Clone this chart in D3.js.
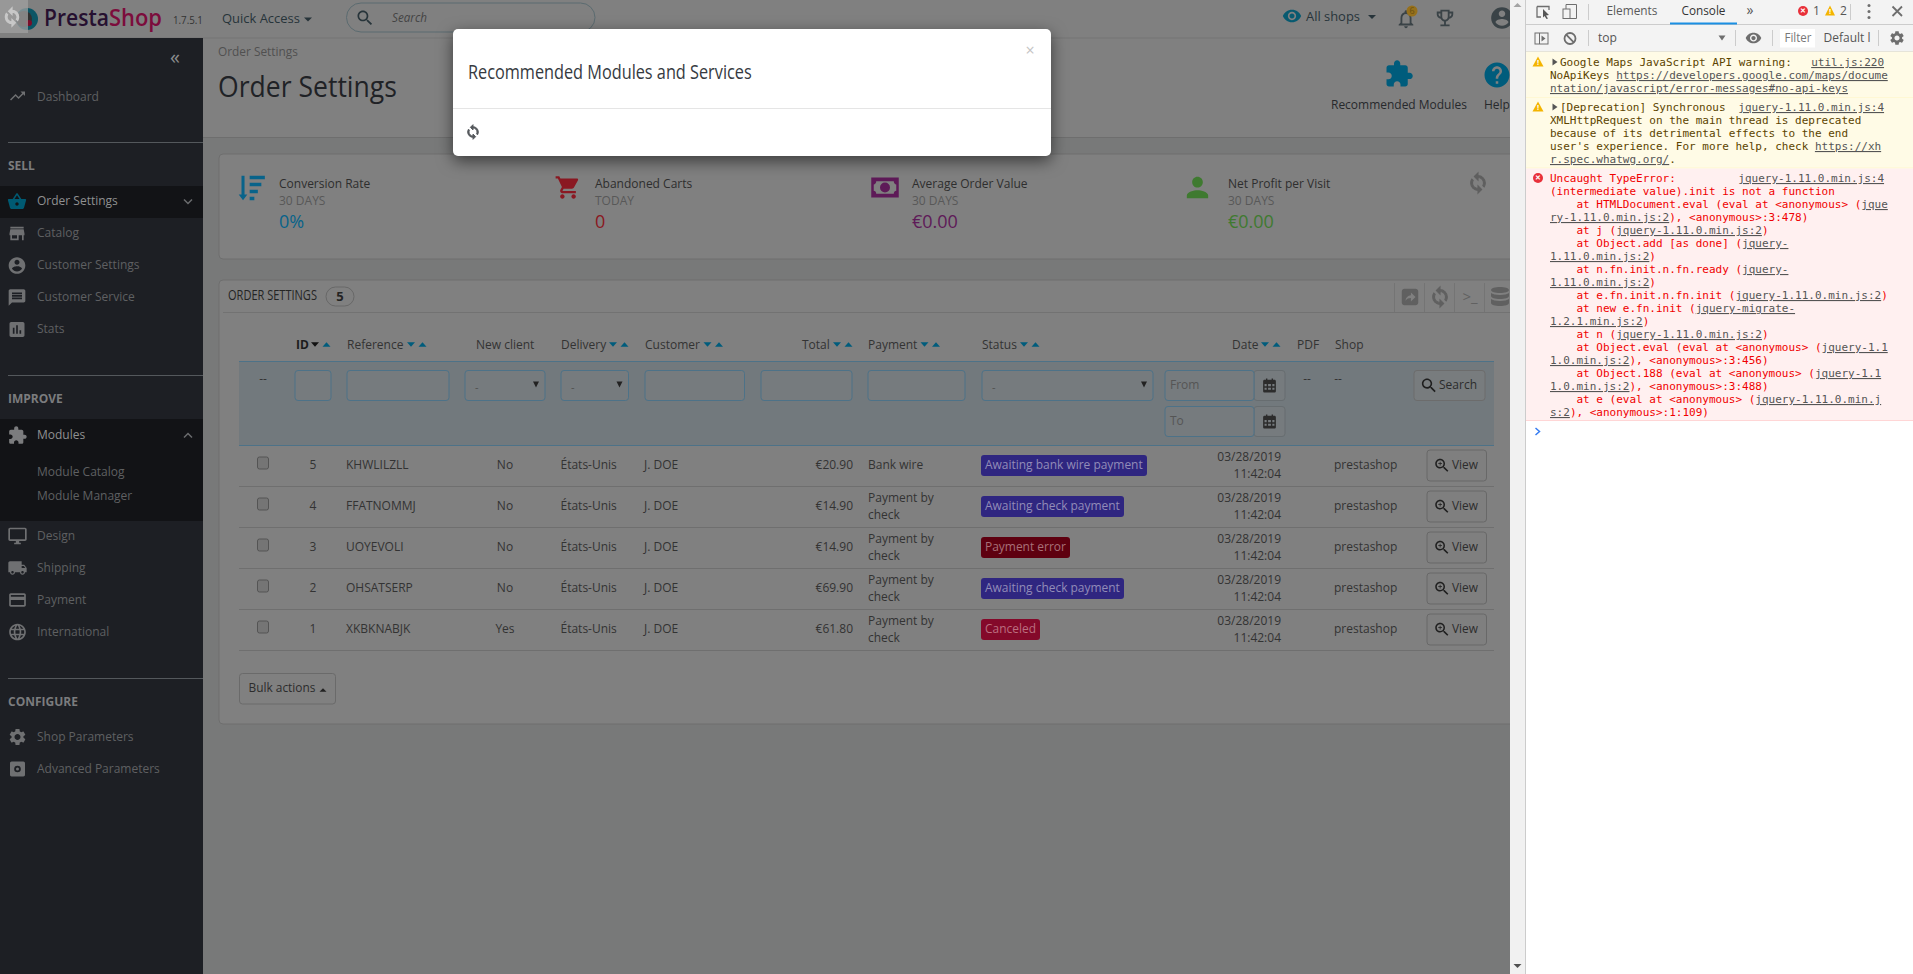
<!DOCTYPE html>
<html>
<head>
<meta charset="utf-8">
<title>Order Settings</title>
<script src="https://cdn.jsdelivr.net/npm/d3@7"></script>
<style>
  html, body { margin: 0; padding: 0; overflow: hidden; background: #fff; }
  svg { display: block; }
  text { font-family: "Open Sans", sans-serif; white-space: pre; }
  .mono { font-family: "DejaVu Sans Mono", monospace; font-size: 11px; }
</style>
</head>
<body>
<div id="page"></div>
<script>
// Sidebar
var sellMenu = ["Order Settings", "Catalog", "Customer Settings", "Customer Service", "Stats"];
var improveMenu = ["Modules", "Design", "Shipping", "Payment", "International"];
var configureMenu = ["Shop Parameters", "Advanced Parameters"];
var moduleSubmenu = ["Module Catalog", "Module Manager"];

// KPI strip
var kpiTitles = ["Conversion Rate", "Abandoned Carts", "Average Order Value", "Net Profit per Visit"];
var kpiPeriods = ["30 DAYS", "TODAY", "30 DAYS", "30 DAYS"];
var kpiValues = ["0%", "0", "€0.00", "€0.00"];

// Orders table
var orderIds = ["5", "4", "3", "2", "1"];
var orderRefs = ["KHWLILZLL", "FFATNOMMJ", "UOYEVOLI", "OHSATSERP", "XKBKNABJK"];
var orderNewClient = ["No", "No", "No", "No", "Yes"];
var orderDelivery = ["États-Unis", "États-Unis", "États-Unis", "États-Unis", "États-Unis"];
var orderCustomer = ["J. DOE", "J. DOE", "J. DOE", "J. DOE", "J. DOE"];
var orderTotal = ["€20.90", "€14.90", "€14.90", "€69.90", "€61.80"];
var orderPayment = [["Bank wire"], ["Payment by", "check"], ["Payment by", "check"], ["Payment by", "check"], ["Payment by", "check"]];
var orderStatus = ["Awaiting bank wire payment", "Awaiting check payment", "Payment error", "Awaiting check payment", "Canceled"];
var orderDate = ["03/28/2019", "03/28/2019", "03/28/2019", "03/28/2019", "03/28/2019"];
var orderTime = ["11:42:04", "11:42:04", "11:42:04", "11:42:04", "11:42:04"];
var orderShop = ["prestashop", "prestashop", "prestashop", "prestashop", "prestashop"];

// Console output, {...} marks a link
var warnMaps = [
  "Google Maps JavaScript API warning:{util.js:220}",
  "NoApiKeys {https://developers.google.com/maps/docume}",
  "{ntation/javascript/error-messages#no-api-keys}"
];
var warnDeprecation = [
  "[Deprecation] Synchronous{jquery-1.11.0.min.js:4}",
  "XMLHttpRequest on the main thread is deprecated",
  "because of its detrimental effects to the end",
  "user's experience. For more help, check {https://xh}",
  "{r.spec.whatwg.org/}."
];
var errorLines = [
  "Uncaught TypeError:{jquery-1.11.0.min.js:4}",
  "(intermediate value).init is not a function",
  "    at HTMLDocument.eval (eval at <anonymous> ({jque}",
  "{ry-1.11.0.min.js:2}), <anonymous>:3:478)",
  "    at j ({jquery-1.11.0.min.js:2})",
  "    at Object.add [as done] ({jquery-}",
  "{1.11.0.min.js:2})",
  "    at n.fn.init.n.fn.ready ({jquery-}",
  "{1.11.0.min.js:2})",
  "    at e.fn.init.n.fn.init ({jquery-1.11.0.min.js:2})",
  "    at new e.fn.init ({jquery-migrate-}",
  "{1.2.1.min.js:2})",
  "    at n ({jquery-1.11.0.min.js:2})",
  "    at Object.eval (eval at <anonymous> ({jquery-1.1}",
  "{1.0.min.js:2}), <anonymous>:3:456)",
  "    at Object.188 (eval at <anonymous> ({jquery-1.1}",
  "{1.0.min.js:2}), <anonymous>:3:488)",
  "    at e (eval at <anonymous> ({jquery-1.11.0.min.j}",
  "{s:2}), <anonymous>:1:109)"
];

// Material style icon paths
var icons = {
  trend: "M16 6l2.29 2.29-4.88 4.88-4-4L2 16.59 3.41 18l6-6 4 4 6.3-6.29L22 12V6z",
  basket: "M17.21 9l-4.38-6.56c-.19-.28-.51-.42-.83-.42-.32 0-.64.14-.83.43L6.79 9H2c-.55 0-1 .45-1 1 0 .09.01.18.04.27l2.54 9.27c.23.84 1 1.46 1.92 1.46h13c.92 0 1.69-.62 1.93-1.46l2.54-9.27L23 10c0-.55-.45-1-1-1h-4.79zM9 9l3-4.4L15 9H9zm3 8c-1.1 0-2-.9-2-2s.9-2 2-2 2 .9 2 2-.9 2-2 2z",
  store: "M20 4H4v2h16V4zm1 10v-2l-1-5H4l-1 5v2h1v6h10v-6h4v6h2v-6h1zm-9 4H6v-4h6v4z",
  account: "M12 2C6.48 2 2 6.48 2 12s4.48 10 10 10 10-4.48 10-10S17.52 2 12 2zm0 3c1.66 0 3 1.34 3 3s-1.34 3-3 3-3-1.34-3-3 1.34-3 3-3zm0 14.2c-2.5 0-4.71-1.28-6-3.22.03-1.99 4-3.08 6-3.08 1.99 0 5.97 1.09 6 3.08-1.29 1.94-3.5 3.22-6 3.22z",
  chat: "M20 2H4c-1.1 0-1.99.9-1.99 2L2 22l4-4h14c1.1 0 2-.9 2-2V4c0-1.1-.9-2-2-2zm-2 12H6v-2h12v2zm0-3H6V9h12v2zm0-3H6V6h12v2z",
  stats: "M19 3H5c-1.1 0-2 .9-2 2v14c0 1.1.9 2 2 2h14c1.1 0 2-.9 2-2V5c0-1.1-.9-2-2-2zM9 17H7v-7h2v7zm4 0h-2V7h2v10zm4 0h-2v-4h2v4z",
  puzzle: "M20.5 11H19V7c0-1.1-.9-2-2-2h-4V3.5C13 2.12 11.88 1 10.5 1S8 2.12 8 3.5V5H4c-1.1 0-1.99.9-1.99 2v3.8H3.5c1.49 0 2.7 1.21 2.7 2.7s-1.21 2.7-2.7 2.7H2V20c0 1.1.9 2 2 2h3.8v-1.5c0-1.49 1.21-2.7 2.7-2.7 1.49 0 2.7 1.21 2.7 2.7V22H17c1.1 0 2-.9 2-2v-4h1.5c1.38 0 2.5-1.12 2.5-2.5S21.88 11 20.5 11z",
  desktop: "M21 2H3c-1.1 0-2 .9-2 2v12c0 1.1.9 2 2 2h7v2H8v2h8v-2h-2v-2h7c1.1 0 2-.9 2-2V4c0-1.1-.9-2-2-2zm0 14H3V4h18v12z",
  truck: "M20 8h-3V4H3c-1.1 0-2 .9-2 2v11h2c0 1.66 1.34 3 3 3s3-1.34 3-3h6c0 1.66 1.34 3 3 3s3-1.34 3-3h2v-5l-3-4zM6 18.5c-.83 0-1.5-.67-1.5-1.5s.67-1.5 1.5-1.5 1.5.67 1.5 1.5-.67 1.5-1.5 1.5zm13.5-9l1.96 2.5H17V9.5h2.5zm-1.5 9c-.83 0-1.5-.67-1.5-1.5s.67-1.5 1.5-1.5 1.5.67 1.5 1.5-.67 1.5-1.5 1.5z",
  card: "M20 4H4c-1.11 0-1.99.89-1.99 2L2 18c0 1.11.89 2 2 2h16c1.11 0 2-.89 2-2V6c0-1.11-.89-2-2-2zm0 14H4v-6h16v6zm0-10H4V6h16v2z",
  globe: "M11.99 2C6.47 2 2 6.48 2 12s4.47 10 9.99 10C17.52 22 22 17.52 22 12S17.52 2 11.99 2zm6.93 6h-2.95c-.32-1.25-.78-2.45-1.38-3.56 1.84.63 3.37 1.91 4.33 3.56zM12 4.04c.83 1.2 1.48 2.53 1.91 3.96h-3.82c.43-1.43 1.08-2.76 1.91-3.96zM4.26 14C4.1 13.36 4 12.69 4 12s.1-1.36.26-2h3.38c-.08.66-.14 1.32-.14 2 0 .68.06 1.34.14 2H4.26zm.82 2h2.95c.32 1.25.78 2.45 1.38 3.56-1.84-.63-3.37-1.9-4.33-3.56zm2.95-8H5.08c.96-1.66 2.49-2.93 4.33-3.56C8.81 5.55 8.35 6.75 8.03 8zM12 19.96c-.83-1.2-1.48-2.53-1.91-3.96h3.82c-.43 1.43-1.08 2.76-1.91 3.96zM14.34 14H9.66c-.09-.66-.16-1.32-.16-2 0-.68.07-1.35.16-2h4.68c.09.65.16 1.32.16 2 0 .68-.07 1.34-.16 2zm.25 5.56c.6-1.11 1.06-2.31 1.38-3.56h2.95c-.96 1.65-2.49 2.93-4.33 3.56zM16.36 14c.08-.66.14-1.32.14-2 0-.68-.06-1.34-.14-2h3.38c.16.64.26 1.31.26 2s-.1 1.36-.26 2h-3.38z",
  gear: "M19.14 12.94c.04-.3.06-.61.06-.94 0-.32-.02-.64-.07-.94l2.03-1.58c.18-.14.23-.41.12-.61l-1.92-3.32c-.12-.22-.37-.29-.59-.22l-2.39.96c-.5-.38-1.03-.7-1.62-.94l-.36-2.54c-.04-.24-.24-.41-.48-.41h-3.84c-.24 0-.43.17-.47.41l-.36 2.54c-.59.24-1.13.57-1.62.94l-2.39-.96c-.22-.08-.47 0-.59.22L2.74 8.87c-.12.21-.08.47.12.61l2.03 1.58c-.05.3-.09.63-.09.94s.02.64.07.94l-2.03 1.58c-.18.14-.23.41-.12.61l1.92 3.32c.12.22.37.29.59.22l2.39-.96c.5.38 1.03.7 1.62.94l.36 2.54c.05.24.24.41.48.41h3.84c.24 0 .44-.17.47-.41l.36-2.54c.59-.24 1.13-.56 1.62-.94l2.39.96c.22.08.47 0 .59-.22l1.92-3.32c.12-.22.07-.47-.12-.61l-2.01-1.58zM12 15.6c-1.98 0-3.6-1.62-3.6-3.6s1.62-3.6 3.6-3.6 3.6 1.62 3.6 3.6-1.62 3.6-3.6 3.6z",
  appgear: "M5 3h14c1.1 0 2 .9 2 2v14c0 1.1-.9 2-2 2H5c-1.1 0-2-.9-2-2V5c0-1.1.9-2 2-2zm7 5a4 4 0 1 0 0 8 4 4 0 0 0 0-8zm0 2.2a1.8 1.8 0 1 1 0 3.6 1.8 1.8 0 0 1 0-3.6z",
  sync: "M12 4V1L8 5l4 4V6c3.31 0 6 2.69 6 6 0 1.01-.25 1.97-.7 2.8l1.46 1.46C19.54 15.03 20 13.57 20 12c0-4.42-3.58-8-8-8zm0 14c-3.31 0-6-2.69-6-6 0-1.01.25-1.97.7-2.8L5.24 7.74C4.46 8.97 4 10.43 4 12c0 4.42 3.58 8 8 8v3l4-4-4-4v3z",
  search: "M15.5 14h-.79l-.28-.27C15.41 12.59 16 11.11 16 9.5 16 5.91 13.09 3 9.5 3S3 5.91 3 9.5 5.91 16 9.5 16c1.61 0 3.09-.59 4.23-1.57l.27.28v.79l5 4.99L20.49 19l-4.99-5zm-6 0C7.01 14 5 11.99 5 9.5S7.01 5 9.5 5 14 7.01 14 9.5 11.99 14 9.5 14z",
  zoomin: "M15.5 14h-.79l-.28-.27C15.41 12.59 16 11.11 16 9.5 16 5.91 13.09 3 9.5 3S3 5.91 3 9.5 5.91 16 9.5 16c1.61 0 3.09-.59 4.23-1.57l.27.28v.79l5 4.99L20.49 19l-4.99-5zm-6 0C7.01 14 5 11.99 5 9.5S7.01 5 9.5 5 14 7.01 14 9.5 11.99 14 9.5 14zM12 10h-2v2H9v-2H7V9h2V7h1v2h2v1z",
  person: "M12 12c2.21 0 4-1.79 4-4s-1.79-4-4-4-4 1.79-4 4 1.79 4 4 4zm0 2c-2.67 0-8 1.34-8 4v2h16v-2c0-2.66-5.33-4-8-4z",
  cart: "M7 18c-1.1 0-1.99.9-1.99 2S5.9 22 7 22s2-.9 2-2-.9-2-2-2zM1 2v2h2l3.6 7.59-1.35 2.45c-.16.28-.25.61-.25.96 0 1.1.9 2 2 2h12v-2H7.42c-.14 0-.25-.11-.25-.25l.03-.12.9-1.63h7.45c.75 0 1.41-.41 1.75-1.03l3.58-6.49c.08-.14.12-.31.12-.48 0-.55-.45-1-1-1H5.21l-.94-2H1zm16 16c-1.1 0-1.99.9-1.99 2s.89 2 1.99 2 2-.9 2-2-.9-2-2-2z",
  sort: "M3 2h2.6v16H8l-3.7 5L.6 18H3zM10 2h13v3H10zM10 8h10v3H10zM10 14h7v3H10zM10 20h4v3h-4z",
  money: "M1 4h22v16H1zM5 7c0 1.5-1 2.5-2 2.5v5c1 0 2 1 2 2.5h14c0-1.5 1-2.5 2-2.5v-5c-1 0-2-1-2-2.5zM12 8a4 4 0 1 1 0 8 4 4 0 0 1 0-8z",
  eye: "M12 4.5C7 4.5 2.73 7.61 1 12c1.73 4.39 6 7.5 11 7.5s9.27-3.11 11-7.5c-1.73-4.39-6-7.5-11-7.5zM12 17c-2.76 0-5-2.24-5-5s2.24-5 5-5 5 2.24 5 5-2.24 5-5 5zm0-8c-1.66 0-3 1.34-3 3s1.34 3 3 3 3-1.34 3-3-1.34-3-3-3z",
  help: "M12 2C6.48 2 2 6.48 2 12s4.48 10 10 10 10-4.48 10-10S17.52 2 12 2zm1 17h-2v-2h2v2zm2.07-7.75l-.9.92C13.45 12.9 13 13.5 13 15h-2v-.5c0-1.1.45-2.1 1.17-2.83l1.24-1.26c.37-.36.59-.86.59-1.41 0-1.1-.9-2-2-2s-2 .9-2 2H8c0-2.21 1.79-4 4-4s4 1.79 4 4c0 .88-.36 1.68-.93 2.25z",
  bell: "M12 22c1.1 0 2-.9 2-2h-4c0 1.1.9 2 2 2zm6-6v-5c0-3.07-1.63-5.64-4.5-6.32V4c0-.83-.67-1.5-1.5-1.5s-1.5.67-1.5 1.5v.68C7.64 5.36 6 7.92 6 11v5l-2 2v1h16v-1l-2-2zm-2 1H8v-6c0-2.48 1.51-4.5 4-4.5s4 2.02 4 4.5v6z",
  trophy: "M7 3h10v2h4v3c0 2.5-1.9 4.6-4.4 4.9-.6 1.5-2 2.7-3.6 3V19h4v2H7v-2h4v-3.1c-1.6-.3-3-1.5-3.6-3C4.9 12.6 3 10.5 3 8V5h4zm2 2v6c0 1.7 1.3 3 3 3s3-1.3 3-3V5zM5 7v1c0 1.2.8 2.3 2 2.7V7zm14 0h-2v3.7c1.2-.4 2-1.5 2-2.7z",
  calendar: "M5 4h2V2h2v2h6V2h2v2h2c1.1 0 2 .9 2 2v14c0 1.1-.9 2-2 2H5c-1.1 0-2-.9-2-2V6c0-1.1.9-2 2-2zm0 6v3h3v-3zm5 0v3h4v-3zm6 0v3h3v-3zM5 15v3h3v-3zm5 0v3h4v-3zm6 0v3h3v-3z",
  share: "M6 3h12c1.7 0 3 1.3 3 3v12c0 1.7-1.3 3-3 3H6c-1.7 0-3-1.3-3-3V6c0-1.7 1.3-3 3-3zm7 4v3c-3.5.3-5.5 2.5-6 6 1.5-2 3.5-2.8 6-2.8V17l5-5z",
  database: "M12 2c5 0 9 1.3 9 3s-4 3-9 3-9-1.3-9-3 4-3 9-3zM3 8c1.5 1.3 5 2 9 2s7.5-.7 9-2v3c0 1.7-4 3-9 3s-9-1.3-9-3zm0 6c1.5 1.3 5 2 9 2s7.5-.7 9-2v4c0 1.7-4 3-9 3s-9-1.3-9-3z"
};

var svg = d3.select("#page").append("svg").attr("width", 1913).attr("height", 974);

function rect(g, x0, y0, x1, y1, fill, stroke, r) {
  return g.append("rect").attr("x", x0).attr("y", y0)
    .attr("width", x1 - x0).attr("height", y1 - y0)
    .attr("fill", fill || "none").attr("stroke", stroke || "none").attr("rx", r || 0);
}

function line(g, x0, y0, x1, y1, color, w) {
  return g.append("line").attr("x1", x0).attr("y1", y0).attr("x2", x1).attr("y2", y1)
    .attr("stroke", color).attr("stroke-width", w || 1);
}

// cy is the visual middle of the text, opts.w squeezes it to a measured width
function label(g, x, cy, str, opts) {
  opts = opts || {};
  var size = opts.size || 12;
  var y = cy + size * 0.32;
  var t = g.append("text").attr("x", x).attr("y", y)
    .attr("font-size", size).attr("fill", opts.fill || "#333")
    .attr("text-anchor", opts.anchor || "start").text(str);
  if (opts.weight) t.attr("font-weight", opts.weight);
  if (opts.italic) t.attr("font-style", "italic");
  if (opts.w) {
    var k = opts.w / t.node().getComputedTextLength();
    t.attr("x", 0).attr("y", 0).attr("transform", "translate(" + x + "," + y + ") scale(" + k + ",1)");
  }
  return t;
}

function icon(g, name, cx, cy, size, fill, bold) {
  var k = size / 24;
  var p = g.append("path").attr("d", icons[name]).attr("fill", fill)
    .attr("fill-rule", "evenodd")
    .attr("transform", "translate(" + (cx - size / 2) + "," + (cy - size / 2) + ") scale(" + k + ")");
  if (bold) p.attr("stroke", fill).attr("stroke-width", bold);
  return p;
}

function caret(g, cx, cy, up, fill, w, h) {
  w = w || 4.5; h = h || 4.5;
  var s = up ? -1 : 1;
  g.append("path").attr("fill", fill)
    .attr("d", "M" + (cx - w) + "," + (cy - s * h / 2) + "L" + (cx + w) + "," + (cy - s * h / 2) + "L" + cx + "," + (cy + s * h / 2) + "Z");
}

var blue = "#005c7c";
var ink = "#333";
var side = "#5f6062";

// ---------- page background (everything below the modal backdrop is dimmed)
var page = svg.append("g");
rect(page, 0, 0, 1510, 974, "#787979");
rect(page, 0, 0, 1510, 137, "#808080");
line(page, 203, 137.5, 1510, 137.5, "#6e6e6e");
line(page, 0, 38, 1510, 38, "#757575");

// ---------- top bar
page.append("circle").attr("cx", 27).attr("cy", 19).attr("r", 11).attr("fill", "#0b5565");
page.append("circle").attr("cx", 24).attr("cy", 19).attr("r", 8).attr("fill", "#303030");
page.append("circle").attr("cx", 29).attr("cy", 23).attr("r", 3).attr("fill", "#7a0e2a");
rect(page, 0, 0, 28, 33, "#a0a0a0").attr("opacity", 0.75);
icon(page, "sync", 12, 17, 20, "#c8c8c8", 1.5);
label(page, 44, 19, "Presta", { size: 23, fill: "#261030", weight: 600, w: 65 });
label(page, 109, 19, "Shop", { size: 23, fill: "#7c0c3c", weight: 600, w: 53 });
label(page, 173, 20, "1.7.5.1", { size: 11, fill: "#333", w: 30 });
label(page, 222, 19, "Quick Access", { size: 13, fill: "#27343a", w: 78 });
caret(page, 308, 19.5, false, "#27343a", 4, 4);
rect(page, 346.5, 3, 595, 32, "none", "#5b6b70", 14.5);
icon(page, "search", 365, 18, 20, "#27343a");
label(page, 392, 18, "Search", { italic: true, fill: "#444", w: 35 });
icon(page, "eye", 1292, 16, 20, "#085a70");
label(page, 1306, 17, "All shops", { size: 13, fill: "#27343a", w: 54 });
caret(page, 1372, 17, false, "#27343a", 4, 4);
icon(page, "bell", 1406, 19, 22, "#3a4347");
page.append("circle").attr("cx", 1412).attr("cy", 11).attr("r", 5.5).attr("fill", "#96701c");
label(page, 1412, 11, "6", { size: 9, fill: "#6b5010", anchor: "middle" });
icon(page, "trophy", 1445, 18, 22, "#3a4347");
icon(page, "account", 1502, 18, 26, "#3a4347");

// ---------- sidebar
var sidebar = svg.append("g");
rect(sidebar, 0, 38, 203, 974, "#1d1f24");
rect(sidebar, 0, 186, 203, 218, "#121316");
rect(sidebar, 0, 419, 203, 521, "#121316");
label(sidebar, 175, 58, "«", { size: 20, fill: "#8b8d8f", anchor: "middle" });
icon(sidebar, "trend", 17.5, 96, 18, "#6f7072");
label(sidebar, 37, 97, "Dashboard", { fill: side });
line(sidebar, 8, 142.5, 203, 142.5, "#54585c");
label(sidebar, 8, 166, "SELL", { fill: "#7b7c7e", weight: 700 });

var sellY = d3.scaleLinear().domain([0, 4]).range([201.5, 329.5]);
var sellIcons = ["basket", "store", "account", "chat", "stats"];
sellMenu.forEach((name, i) => {
  var active = i === 0;
  icon(sidebar, sellIcons[i], 17, sellY(i), 20, active ? "#005a72" : "#6f7072");
  label(sidebar, 37, sellY(i), name, { fill: active ? "#8f9091" : side });
});
sidebar.append("path").attr("d", "M184,199.5L188,203.5L192,199.5").attr("fill", "none").attr("stroke", "#6a6b6d").attr("stroke-width", 1.5);

line(sidebar, 8, 375.5, 203, 375.5, "#54585c");
label(sidebar, 8, 399, "IMPROVE", { fill: "#7b7c7e", weight: 700 });
icon(sidebar, "puzzle", 17.5, 435.5, 20, "#7b7c7e");
label(sidebar, 37, 435, improveMenu[0], { fill: "#8f9091" });
sidebar.append("path").attr("d", "M184,437.5L188,433.5L192,437.5").attr("fill", "none").attr("stroke", "#6a6b6d").attr("stroke-width", 1.5);
moduleSubmenu.forEach((name, i) => {
  label(sidebar, 37, 472.5 + i * 24, name, { fill: side });
});

var improveY = d3.scaleLinear().domain([1, 4]).range([536, 632]);
var improveIcons = [null, "desktop", "truck", "card", "globe"];
improveMenu.slice(1).forEach((name, i) => {
  icon(sidebar, improveIcons[i + 1], 17.5, improveY(i + 1), 20, "#6f7072");
  label(sidebar, 37, improveY(i + 1), name, { fill: side });
});

line(sidebar, 8, 678.5, 203, 678.5, "#54585c");
label(sidebar, 8, 702, "CONFIGURE", { fill: "#7b7c7e", weight: 700 });
var configureIcons = ["gear", "appgear"];
configureMenu.forEach((name, i) => {
  icon(sidebar, configureIcons[i], 17.5, 737 + i * 32, 20, "#6f7072");
  label(sidebar, 37, 737 + i * 32, name, { fill: side });
});

// ---------- page header
var header = svg.append("g");
label(header, 218, 52, "Order Settings", { fill: "#505050", w: 80 });
label(header, 218, 87, "Order Settings", { size: 30, fill: "#1f2226", w: 179 });
icon(header, "puzzle", 1399, 74, 30, blue);
label(header, 1331, 105, "Recommended Modules", { fill: "#27292c", w: 136 });
icon(header, "help", 1497, 75, 30, blue);
label(header, 1484, 105, "Help", { fill: "#27292c" });

// ---------- KPI strip
var kpi = svg.append("g");
rect(kpi, 219, 154, 1540, 259, "#808080", "#6e6e6e", 4);
var kpiX = [279, 595, 912, 1228];
var kpiColor = ["#08638a", "#8a1822", "#5e1a58", "#3f7a30"];
var kpiIcons = ["sort", "cart", "money", "person"];
var kpiIconX = [252, 568, 885, 1197.5];
var kpiIconSize = [28, 27, 30, 32];
kpiTitles.forEach((name, i) => {
  icon(kpi, kpiIcons[i], kpiIconX[i], 187.5, kpiIconSize[i], kpiColor[i]);
  label(kpi, kpiX[i], 184, name, { fill: "#2e2e2e" });
  label(kpi, kpiX[i], 201, kpiPeriods[i], { fill: "#585858" });
  label(kpi, kpiX[i], 222, kpiValues[i], { size: 18, fill: kpiColor[i] });
});
icon(kpi, "sync", 1478, 183, 22, "#5f5f5f", 1.2);

// ---------- orders panel
var panel = svg.append("g");
rect(panel, 219, 280, 1540, 724, "#808080", "#6e6e6e", 4);
line(panel, 223, 312.5, 1510, 312.5, "#727272");
label(panel, 228, 296, "ORDER SETTINGS", { size: 14, fill: "#242424", w: 89 });
rect(panel, 326, 287, 354, 306, "none", "#686868", 9.5);
label(panel, 340, 296.5, String(orderIds.length), { size: 13, fill: "#242424", anchor: "middle", weight: 700 });

[1394, 1424, 1454, 1484].forEach(x => line(panel, x + 0.5, 283, x + 0.5, 312, "#747474"));
icon(panel, "share", 1410, 297, 22, "#606060");
icon(panel, "sync", 1440, 297, 22, "#606060", 1.2);
label(panel, 1470, 297, ">_", { size: 15, fill: "#606060", anchor: "middle" });
icon(panel, "database", 1500, 297, 24, "#606060");

// column headers
var headNames = ["ID", "Reference", "New client", "Delivery", "Customer", "Total", "Payment", "Status", "Date", "PDF", "Shop"];
var headX = [296, 347, 476, 561, 645, 802, 868, 982, 1232, 1297, 1335];
var headCaretDown = [315, 411, null, 613, 707.5, 837, 924.5, 1024, 1265, null, null];
headNames.forEach((name, i) => {
  label(panel, headX[i], 345, name, { fill: i === 0 ? "#1c1c1c" : "#333", weight: i === 0 ? 700 : null });
  if (headCaretDown[i] !== null) {
    caret(panel, headCaretDown[i], 344.5, false, i === 0 ? "#111" : blue, 4, 4.5);
    caret(panel, headCaretDown[i] + 11.5, 344.5, true, blue, 4, 4.5);
  }
});

// filter band
rect(panel, 239, 361, 1494, 445, "#72797d");
line(panel, 239, 361.5, 1494, 361.5, "#4d7288");
line(panel, 239, 445.5, 1494, 445.5, "#4d7288");
var filterInputs = [[295, 331], [347, 449], [465, 545], [561, 628.5], [645, 744.5], [761, 852], [868, 965], [982, 1153]];
filterInputs.forEach(b => rect(panel, b[0], 370.5, b[1], 400.5, "#767b7e", "#4d7288", 3));
[[465, 545], [561, 628.5], [982, 1153]].forEach(b => {
  label(panel, b[0] + 10, 387, "-", { size: 11, fill: "#505050" });
  caret(panel, b[1] - 9, 384.5, false, "#222", 3, 6);
});
[263, 1307, 1338].forEach(x => label(panel, x, 379, "--", { anchor: "middle", fill: "#333" }));
[["From", 370.5], ["To", 406.5]].forEach(d => {
  rect(panel, 1254, d[1], 1285, d[1] + 30, "#767b7e", "#676d70", 3);
  rect(panel, 1165, d[1], 1254, d[1] + 30, "#767b7e", "#4d7288", 3);
  label(panel, 1170, d[1] + 15, d[0], { fill: "#555" });
  icon(panel, "calendar", 1269.5, d[1] + 15, 17, "#2c2c2c");
});
rect(panel, 1414, 370.5, 1485, 400.5, "#787c7e", "#6c6c6c", 3);
icon(panel, "search", 1429, 385.5, 19, "#1f1f1f");
label(panel, 1439, 385.5, "Search", { fill: "#2c2c2c" });

// order rows
var rowY = d3.scaleBand().domain(orderIds).range([445, 650]);
var statusColor = d3.scaleOrdinal()
  .domain(["Awaiting bank wire payment", "Awaiting check payment", "Payment error", "Canceled"])
  .range(["#2f2680", "#2f2680", "#5e0010", "#84092a"]);
var statusText = d3.scaleOrdinal()
  .domain(["Awaiting bank wire payment", "Awaiting check payment", "Payment error", "Canceled"])
  .range(["#928cb8", "#928cb8", "#a87078", "#bb6f80"]);
var statusWidth = { "Awaiting bank wire payment": 166, "Awaiting check payment": 143, "Payment error": 89, "Canceled": 59 };

orderIds.forEach((id, i) => {
  var cy = rowY(id) + rowY.bandwidth() / 2;
  line(panel, 239, rowY(id) + 41.5, 1494, rowY(id) + 41.5, "#6f6f6f");
  rect(panel, 257.5, cy - 8.5, 268.5, cy + 3.5, "#757575", "#545454", 2);
  label(panel, 313, cy, id, { anchor: "middle", fill: ink });
  label(panel, 346, cy, orderRefs[i], { fill: ink });
  label(panel, 505, cy, orderNewClient[i], { anchor: "middle", fill: ink });
  label(panel, 560.5, cy, orderDelivery[i], { fill: ink });
  label(panel, 644, cy, orderCustomer[i], { fill: ink });
  label(panel, 853, cy, orderTotal[i], { anchor: "end", fill: ink });
  var pay = orderPayment[i];
  if (pay.length === 1) {
    label(panel, 868, cy, pay[0], { fill: ink });
  } else {
    label(panel, 868, cy - 8, pay[0], { fill: ink });
    label(panel, 868, cy + 9, pay[1], { fill: ink });
  }
  var st = orderStatus[i];
  rect(panel, 981, cy - 10.5, 981 + statusWidth[st], cy + 10.5, statusColor(st), null, 3);
  label(panel, 985, cy, st, { fill: statusText(st), w: statusWidth[st] - 8 });
  label(panel, 1281, cy - 8, orderDate[i], { anchor: "end", fill: ink });
  label(panel, 1281, cy + 9, orderTime[i], { anchor: "end", fill: ink });
  label(panel, 1334, cy, orderShop[i], { fill: ink });
  rect(panel, 1427, cy - 15.5, 1486.5, cy + 15.5, "#7f7f7f", "#686868", 3);
  icon(panel, "zoomin", 1442, cy, 18, "#1f1f1f");
  label(panel, 1452, cy, "View", { fill: "#2c2c2c", w: 26 });
});

rect(panel, 239.5, 673.5, 335.5, 704, "#808080", "#6a6a6a", 3);
label(panel, 248.5, 688.5, "Bulk actions", { fill: "#2c2c2c", w: 67 });
caret(panel, 323, 690, true, "#222", 3.5, 3.5);

// ---------- modal
var modal = svg.append("g");
rect(modal, 453, 29, 1051, 156, "#fff", null, 5).style("filter", "drop-shadow(0 5px 8px rgba(0,0,0,.55))");
line(modal, 453, 108.5, 1051, 108.5, "#e5e5e5");
label(modal, 468, 73, "Recommended Modules and Services", { size: 20, fill: "#363a41", w: 284 });
label(modal, 1030, 51, "×", { size: 16, fill: "#c4c4c4", anchor: "middle" });
icon(modal, "sync", 473, 132, 16, "#55585c", 1.4);

// ---------- devtools
var dev = svg.append("g");
rect(dev, 1510, 0, 1526, 974, "#f1f1f1");
caret(dev, 1517.5, 5, true, "#a3a3a3", 4, 4);
caret(dev, 1517.5, 966, false, "#505050", 4, 4);
rect(dev, 1525.5, 0, 1913, 974, "#fff");
line(dev, 1525.5, 0, 1525.5, 974, "#ccc");
rect(dev, 1526, 0, 1913, 51, "#f3f3f3");
line(dev, 1526, 24.5, 1913, 24.5, "#ccc");
line(dev, 1526, 51.5, 1913, 51.5, "#ccc");

// tab row
dev.append("path").attr("d", "M1537,6.5H1549V10M1537,6.5V17H1541").attr("fill", "none").attr("stroke", "#6e6e6e").attr("stroke-width", 1.3);
dev.append("path").attr("d", "M1543,9L1549,15L1546,15.5L1548,18.5L1546.5,19L1544.5,16L1543,17.5Z").attr("fill", "#555");
rect(dev, 1563, 9, 1570, 18.5, "none", "#6e6e6e");
dev.append("path").attr("d", "M1566,9V4.5H1576.5V18.5H1570").attr("fill", "none").attr("stroke", "#6e6e6e");
line(dev, 1588.5, 4, 1588.5, 20, "#ccc");
label(dev, 1606.5, 11.5, "Elements", { fill: "#5a5a5a", w: 51 });
label(dev, 1681.5, 11.5, "Console", { fill: "#333", w: 44 });
rect(dev, 1670, 22.5, 1737, 24.5, "#1a8fe3");
label(dev, 1750, 11, "»", { size: 14, fill: "#555", anchor: "middle" });
dev.append("circle").attr("cx", 1803).attr("cy", 11).attr("r", 5).attr("fill", "#e8303a");
label(dev, 1803, 10.7, "✕", { size: 6.5, fill: "#fff", anchor: "middle", weight: 700 });
label(dev, 1813, 11.5, "1", { fill: "#555" });
dev.append("path").attr("d", "M1830,5.5L1835,15.5H1825Z").attr("fill", "#f4b400");
label(dev, 1830, 11.8, "!", { size: 7.5, fill: "#fff", anchor: "middle", weight: 700 });
label(dev, 1840, 11.5, "2", { fill: "#555" });
line(dev, 1850.5, 4, 1850.5, 20, "#ccc");
[5.5, 11.5, 17.5].forEach(y => dev.append("circle").attr("cx", 1869).attr("cy", y).attr("r", 1.5).attr("fill", "#6e6e6e"));
dev.append("path").attr("d", "M1892.5,6.5L1902,16M1902,6.5L1892.5,16").attr("stroke", "#6e6e6e").attr("stroke-width", 1.8);

// filter row
rect(dev, 1535, 33, 1548, 44, "none", "#6e6e6e");
line(dev, 1539.5, 33, 1539.5, 44, "#6e6e6e");
dev.append("path").attr("d", "M1541.5,35.5L1545.5,38.5L1541.5,41.5Z").attr("fill", "#6e6e6e");
dev.append("circle").attr("cx", 1570).attr("cy", 38.5).attr("r", 5.5).attr("fill", "none").attr("stroke", "#6e6e6e").attr("stroke-width", 1.8);
line(dev, 1566.2, 34.7, 1573.8, 42.3, "#6e6e6e", 1.8);
line(dev, 1588.5, 30, 1588.5, 46, "#ccc");
label(dev, 1598, 38.5, "top", { fill: "#555", w: 19 });
caret(dev, 1722, 38, false, "#6e6e6e", 3.5, 5);
line(dev, 1735.5, 30, 1735.5, 46, "#ccc");
icon(dev, "eye", 1753.5, 38, 17, "#6e6e6e");
line(dev, 1772.5, 30, 1772.5, 46, "#ccc");
rect(dev, 1780, 29, 1815, 47.5, "#fff");
label(dev, 1784.5, 38.5, "Filter", { fill: "#777", w: 27 });
label(dev, 1823.5, 38.5, "Default l", { fill: "#555", w: 47 });
line(dev, 1878.5, 30, 1878.5, 46, "#ccc");
icon(dev, "gear", 1897, 38, 17, "#6e6e6e");

// console messages, a link on the first row sits against the right edge
var charW = 6.62;
function consoleBlock(lines, top, bottom, baseline, fill, edge, textColor, firstX) {
  rect(dev, 1526, top, 1913, bottom, fill);
  line(dev, 1526, bottom + 0.5, 1913, bottom + 0.5, edge);
  lines.forEach((row, i) => {
    var t = dev.append("text").attr("class", "mono")
      .attr("x", i === 0 ? firstX : 1550)
      .attr("y", baseline + i * 13).attr("fill", textColor);
    row.split(/(\{[^}]*\})/).filter(s => s).forEach(part => {
      var isLink = part[0] === "{";
      var str = isLink ? part.slice(1, -1) : part;
      var span = t.append("tspan").text(str)
        .attr("fill", isLink ? "#555" : textColor)
        .attr("text-decoration", isLink ? "underline" : null);
      if (i === 0 && isLink) span.attr("x", 1884 - str.length * charW);
    });
  });
}
consoleBlock(warnMaps, 51.5, 97, 66, "#fffbe6", "#fff5c2", "#5c4400", 1560);
consoleBlock(warnDeprecation, 97.5, 167.5, 111, "#fffbe6", "#fff5c2", "#5c4400", 1560);
consoleBlock(errorLines, 168.5, 420, 182, "#fff0f0", "#ffd6d6", "#f00000", 1550);

[62, 107].forEach(y => {
  dev.append("path").attr("d", "M1538," + (y - 5.5) + "L1543.5," + (y + 4.5) + "H1532.5Z").attr("fill", "#f4b400");
  label(dev, 1538, y + 0.7, "!", { size: 7.5, fill: "#fff", anchor: "middle", weight: 700 });
  dev.append("path").attr("d", "M1552.5," + (y - 3.5) + "L1557.5," + y + "L1552.5," + (y + 3.5) + "Z").attr("fill", "#555");
});
dev.append("circle").attr("cx", 1538).attr("cy", 178).attr("r", 5).attr("fill", "#e8303a");
label(dev, 1538, 177.7, "✕", { size: 6.5, fill: "#fff", anchor: "middle", weight: 700 });
dev.append("path").attr("d", "M1535.5,428L1539.5,431.5L1535.5,435").attr("fill", "none").attr("stroke", "#367cf1").attr("stroke-width", 1.5);
</script>
</body>
</html>
